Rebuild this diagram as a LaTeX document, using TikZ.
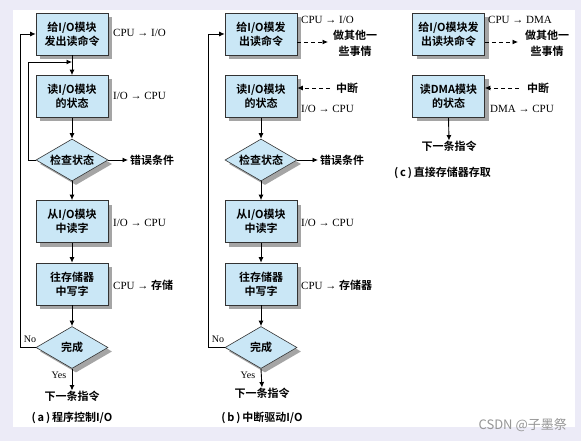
\documentclass[tikz,border=0pt]{standalone}
\usepackage{fontspec}
\setmainfont{Liberation Serif}
\newfontfamily\cjk{Noto Sans CJK SC}[BoldFont={Noto Sans CJK SC Bold}]
\usetikzlibrary{shapes.geometric,shadows,arrows.meta}
\definecolor{bgl}{RGB}{236,235,247}
\definecolor{boxb}{RGB}{202,231,246}
\definecolor{shg}{RGB}{165,165,165}
\definecolor{wm}{RGB}{150,150,150}
\tikzset{
 shad/.style={drop shadow={shadow xshift=4pt,shadow yshift=-4pt,fill=shg,opacity=1}},
 stepbox/.style={draw=black!80,line width=0.6pt,fill=boxb,minimum width=72pt,minimum height=42pt,inner sep=0pt,align=center,font=\fontsize{11}{14}\selectfont\cjk\bfseries,shad},
 decision/.style={diamond,draw=black!80,line width=0.6pt,fill=boxb,minimum width=72pt,minimum height=42pt,inner sep=0pt,shape aspect=1.7,font=\fontsize{11}{14}\selectfont\cjk\bfseries,shad},
 lab/.style={font=\fontsize{11}{13}\selectfont,inner sep=0pt,anchor=west},
 small/.style={font=\fontsize{10}{12}\selectfont,inner sep=0pt},
 cj/.style={font=\fontsize{11}{13}\selectfont\cjk\bfseries,inner sep=0pt},
 conn/.style={line width=0.9pt,-{Latex[length=5.5pt,width=5pt]}},
 dconn/.style={conn,dash pattern=on 4pt off 3pt},
}
\newcommand{\cb}[1]{{\cjk\bfseries #1}}
\begin{document}
\begin{tikzpicture}[x=1pt,y=-1pt]
\fill[bgl] (0,0) rectangle (581,441);
\fill[white] (13,10) rectangle (575,427);
\useasboundingbox (0,0) rectangle (581,441);

% ---------- (a) ----------
\node[stepbox] (a1) at (72,34) {给I/O模块\\发出读命令};
\node[stepbox] (a2) at (72,96.5) {读I/O模块\\的状态};
\node[decision] (ad1) at (72,160) {检查状态};
\node[stepbox] (a3) at (72,221.5) {从I/O模块\\中读字};
\node[stepbox] (a4) at (72,284) {往存储器\\中写字};
\node[decision] (ad2) at (72,347.5) {完成};
\node[cj] (ana) at (72,396) {下一条指令};
\node[cj] (acap) at (72,418) {(\,a\,)\,程序控制I/O};
\coordinate (aj) at (72,62);
\coordinate (ae) at (128,160);
\node[lab] (al1) at (113,33) {CPU → I/O};
\node[lab] (al2) at (113,96) {I/O → CPU};
\node[cj,anchor=west] (aerr) at (130,160) {错误条件};
\node[lab] (al3) at (113,223) {I/O → CPU};
\node[lab] (al4) at (113,285) {CPU → \cb{存储}};
\node[small] (ano) at (30,339) {No};
\node[small] (ayes) at (59,375) {Yes};

\draw[conn] (a1) -- (a2);
\draw[conn] (a2) -- (ad1);
\draw[conn] (ad1.west) -| (28,62) -- (aj);
\draw[conn] (ad1.east) -- (ae);
\draw[conn] (ad1) -- (a3);
\draw[conn] (a3) -- (a4);
\draw[conn] (a4) -- (ad2);
\draw[conn] (ad2.west) -- (20,347.5) |- (a1.west);
\draw[conn] (ad2.south) -- (ana.north);

% ---------- (b) ----------
\node[stepbox] (b1) at (261,34) {给I/O模发\\出读命令};
\node[stepbox] (b2) at (261,96.5) {读I/O模块\\的状态};
\node[decision] (bd1) at (261,160) {检查状态};
\node[stepbox] (b3) at (261,221.5) {从I/O模块\\中读字};
\node[stepbox] (b4) at (261,284) {往存储器\\中写字};
\node[decision] (bd2) at (261,347.5) {完成};
\node[cj] (bna) at (262,393) {下一条指令};
\node[cj] (bcap) at (262,418) {(\,b\,)\,中断驱动I/O};
\coordinate (bo) at (328,42);
\coordinate (bi) at (330,88);
\coordinate (be) at (318,160);
\node[lab] (bl1) at (301,20) {CPU → I/O};
\node[cj] (bo1) at (355,35) {做其他一};
\node[cj] (bo2) at (355,51) {些事情};
\node[cj,anchor=west] (bint) at (336,88) {中断};
\node[lab] (bl2) at (301,109) {I/O → CPU};
\node[cj,anchor=west] (berr) at (320,160) {错误条件};
\node[lab] (bl3) at (301,223) {I/O → CPU};
\node[lab] (bl4) at (301,285) {CPU → \cb{存储器}};
\node[small] (bno) at (218,339) {No};
\node[small] (byes) at (248,375) {Yes};

\draw[dconn] ([yshift=-8pt]b1.east) -- (bo);
\draw[dconn] (bi) -- ([yshift=8.5pt]b2.east);
\draw[conn] (b2) -- (bd1);
\draw[conn] (bd1.east) -- (be);
\draw[conn] (bd1) -- (b3);
\draw[conn] (b3) -- (b4);
\draw[conn] (b4) -- (bd2);
\draw[conn] (bd2.west) -- (208,347.5) |- (b1.west);
\draw[conn] (bd2.south) -- (bna.north);

% ---------- (c) ----------
\node[stepbox] (c1) at (448.5,34) {给I/O模块发\\出读块命令};
\node[stepbox] (c2) at (448.5,96.5) {读DMA模块\\的状态};
\node[cj] (cna) at (449,146) {下一条指令};
\node[cj,anchor=west] (ccap) at (394,173) {(\,c\,)\,直接存储器存取};
\coordinate (co) at (518,42);
\coordinate (ci) at (519,88);
\node[lab] (cl1) at (488,20) {CPU → DMA};
\node[cj] (co1) at (547,35) {做其他一};
\node[cj] (co2) at (547,51) {些事情};
\node[cj] (cint) at (538,88) {中断};
\node[lab] (cl2) at (490,109) {DMA → CPU};

\draw[dconn] ([yshift=-8pt]c1.east) -- (co);
\draw[dconn] (ci) -- ([yshift=8.5pt]c2.east);
\draw[conn] (c2.south) -- (cna.north);

% watermark
\node[font=\fontsize{13}{15}\selectfont\cjk,text=wm,anchor=east,inner sep=0pt] (csdn) at (567,425) {CSDN @子墨祭};
\end{tikzpicture}
\end{document}
